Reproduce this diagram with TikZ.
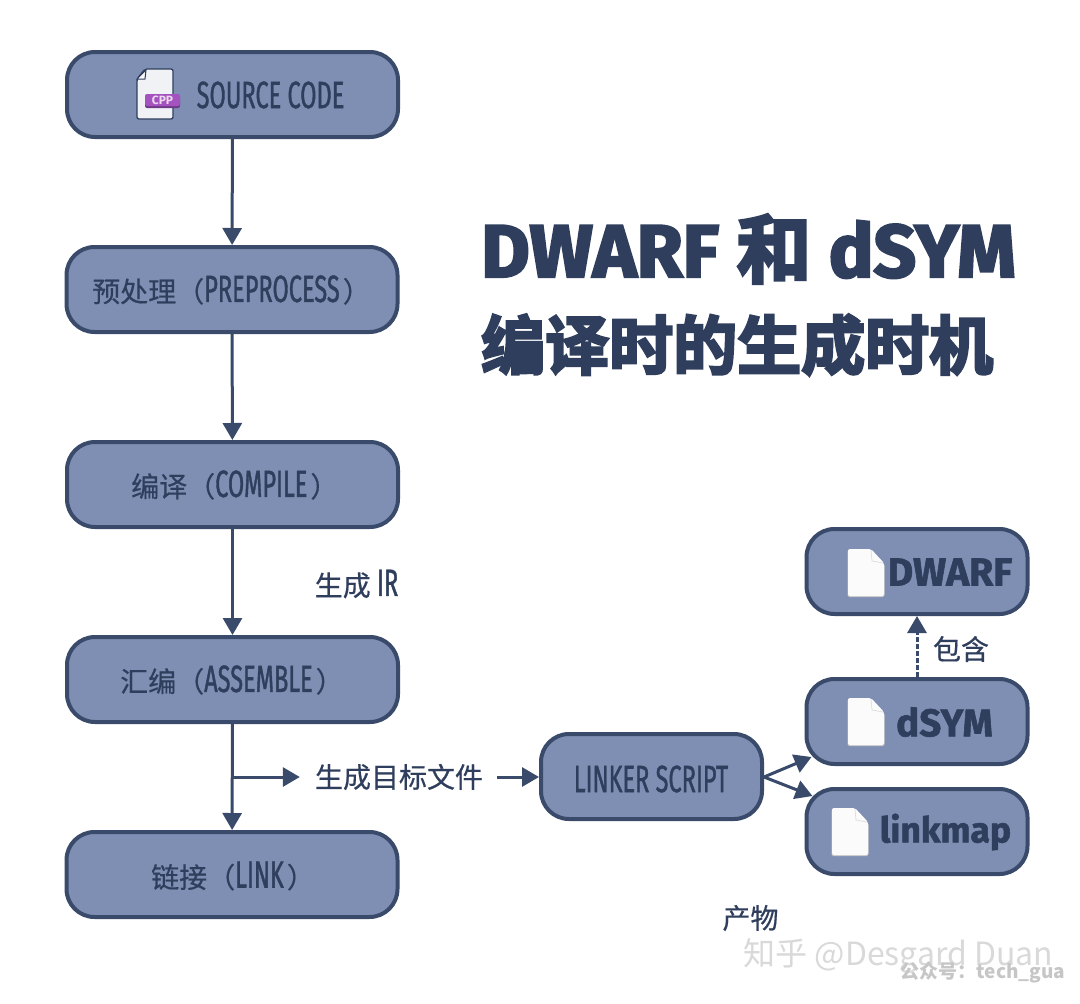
\documentclass[tikz,border=0pt]{standalone}
\usepackage{fontspec}
\usetikzlibrary{arrows.meta}
\setmainfont{Fira Sans}
\newfontfamily\cjk[FakeBold=0.5]{Noto Sans CJK SC}
\newfontfamily\cjktitle[FakeBold=4]{Noto Sans CJK SC Bold}
\newfontfamily\condf[FakeStretch=0.62,FakeBold=1]{Fira Sans}
\newfontfamily\titlef[FakeBold=3]{Fira Sans Bold}
\newfontfamily\boldf[FakeBold=1.5]{Fira Sans Bold}
\newfontfamily\wmf{Noto Sans CJK SC}
\definecolor{boxfill}{HTML}{7F8FB4}
\definecolor{ink}{HTML}{3A4A6B}
\definecolor{darktxt}{HTML}{2F3E5C}
\definecolor{badge}{HTML}{A452C0}
\definecolor{badgedark}{HTML}{6E3A86}
\tikzset{
  x=1pt,y=-1pt,
  flowbox/.style={draw=ink,line width=4pt,fill=boxfill,rounded corners=28pt,minimum width=#1,minimum height=85pt,inner sep=0pt},
  flowbox/.default=330pt,
  boxtext/.style={text=darktxt,font=\fontsize{28}{30}\selectfont\cjk,inner sep=0pt},
  note/.style={text=darktxt,font=\fontsize{28}{30}\selectfont\cjk,inner sep=0pt},
  flow/.style={draw=ink,line width=3pt,-{Triangle[length=17pt,width=19pt]}},
  flowdash/.style={flow,dash pattern=on 5pt off 2pt},
}
\newcommand{\lat}[1]{{\condf\fontsize{38}{40}\selectfont #1}}
\newcommand{\whitefile}[2]{%
  \fill[gray!45,rounded corners=2pt] (#1-.5,#2+1) -- ++(24,0) -- ++(13,14) -- ++(0,33) -- ++(-37,0) -- cycle;
  \fill[white!97!gray,rounded corners=2pt] (#1,#2) -- ++(23,0) -- ++(13,14) -- ++(0,33) -- ++(-36,0) -- cycle;
  \draw[gray!25,line width=.8pt] (#1+23,#2+1) -- (#1+24,#2+12) -- (#1+35,#2+14);
}
\begin{document}
\begin{tikzpicture}
\useasboundingbox (0,0) rectangle (1080,1004);
\fill[white] (0,0) rectangle (1080,1004);
% left column
\node[flowbox=331pt] (src) at (232.5,94.5) {};
\node[flowbox=331pt] (pre) at (232,289.5) {};
\node[flowbox=331pt] (com) at (232.5,484.5) {};
\node[flowbox=331pt] (asm) at (232.5,679.5) {};
\node[flowbox=331pt] (lnk) at (232,874.5) {};
% right
\node[flowbox=221pt] (lsc) at (651.5,776.5) {};
\node[flowbox=221pt] (dwf) at (917,571.5) {};
\node[flowbox=221pt] (dsy) at (917,721.5) {};
\node[flowbox=221pt] (lmp) at (917,831.5) {};
% texts
\node[boxtext] (tsrc) at (270.5,95) {\lat{SOURCE CODE}};
\node[boxtext,anchor=west] (tpre) at (92,290) {预处理（\lat{PREPROCESS}\hspace{3pt}）};
\node[boxtext,anchor=west] (tcom) at (131,485) {编译（\lat{COMPILE}\hspace{3pt}）};
\node[boxtext,anchor=west] (tasm) at (120,680) {汇编（\lat{ASSEMBLE}\hspace{3pt}）};
\node[boxtext,anchor=west] (tlnk) at (151,876) {链接（\lat{LINK}\hspace{3pt}）};
\node[boxtext] (tlsc) at (651,779) {\lat{LINKER SCRIPT}};
\node[inner sep=0pt,text=darktxt,font=\fontsize{39}{40}\selectfont\boldf] (tdwf) at (950,572) {DWARF};
\node[inner sep=0pt,text=darktxt,font=\fontsize{38.5}{40}\selectfont\boldf] (tdsy) at (944.5,722) {dSYM};
\node[inner sep=0pt,text=darktxt,font=\fontsize{35.5}{40}\selectfont\boldf] (tlmp) at (945.5,832) {linkmap};
% cpp icon
\draw[fill=white!88!boxfill,draw=darktxt,line width=1.3pt,rounded corners=2pt] (145,69) -- (173,69) -- (173,119) -- (137,119) -- (137,79) -- cycle;
\draw[fill=white!95!boxfill,draw=darktxt,line width=1pt] (137,79) -- (145,79) -- (146,70) -- cycle;
\fill[rounded corners=2pt,fill=badgedark] (145,96) rectangle (180,108);
\fill[rounded corners=2pt,fill=badge] (145,94) rectangle (180,106);
\node[inner sep=0pt,text=white!85!violet,font=\fontsize{12}{13}\selectfont\bfseries] (cpp) at (162.5,100.5) {CPP};
% white file icons
\whitefile{848}{549}
\whitefile{848}{698}
\whitefile{832}{808}
% title
\node[anchor=west,inner sep=0pt,text=darktxt] (t1) at (481,249) {\fontsize{74.5}{76}\selectfont\titlef DWARF {\cjktitle 和} dSYM};
\node[anchor=west,inner sep=0pt,text=darktxt] (t2) at (481,345) {\fontsize{64}{66}\selectfont\cjktitle 编译时的生成时机};
% labels
\node[note] (nir) at (356.5,584) {生成 \lat{IR}};
\node[note] (nobj) at (399,777) {生成目标文件};
\node[note] (nbh) at (961,649) {包含};
\node[note] (nout) at (750.5,918) {产物};
% connectors
\draw[flow] (src) -- (pre);
\draw[flow] (pre) -- (com);
\draw[flow] (com) -- (asm);
\draw[flow] (asm) -- (lnk);
\coordinate (branch) at (asm.south |- nobj);
\draw[flow] (branch) -- ([xshift=-15pt]nobj.west);
\draw[flow] ([xshift=14pt]nobj.east) -- (lsc.west |- nobj);
\coordinate (fork) at (lsc.east |- 0,777);
\draw[flow] (fork) -- ([xshift=7pt,yshift=9pt]dsy.south west);
\draw[flow] (fork) -- ([xshift=8pt,yshift=-9pt]lmp.north west);
\draw[flowdash] (dsy.north) -- (dwf.south);
% watermarks
\node[inner sep=0pt,text=gray!30,font=\fontsize{32}{34}\selectfont\wmf] (wm1) at (898.5,956) {知乎 @Desgard Duan};
\node[inner sep=0pt,text=gray!45,font=\fontsize{19}{20}\selectfont\wmf\bfseries] (wm2) at (983,973) {公众号：tech\_gua};
\end{tikzpicture}
\end{document}
